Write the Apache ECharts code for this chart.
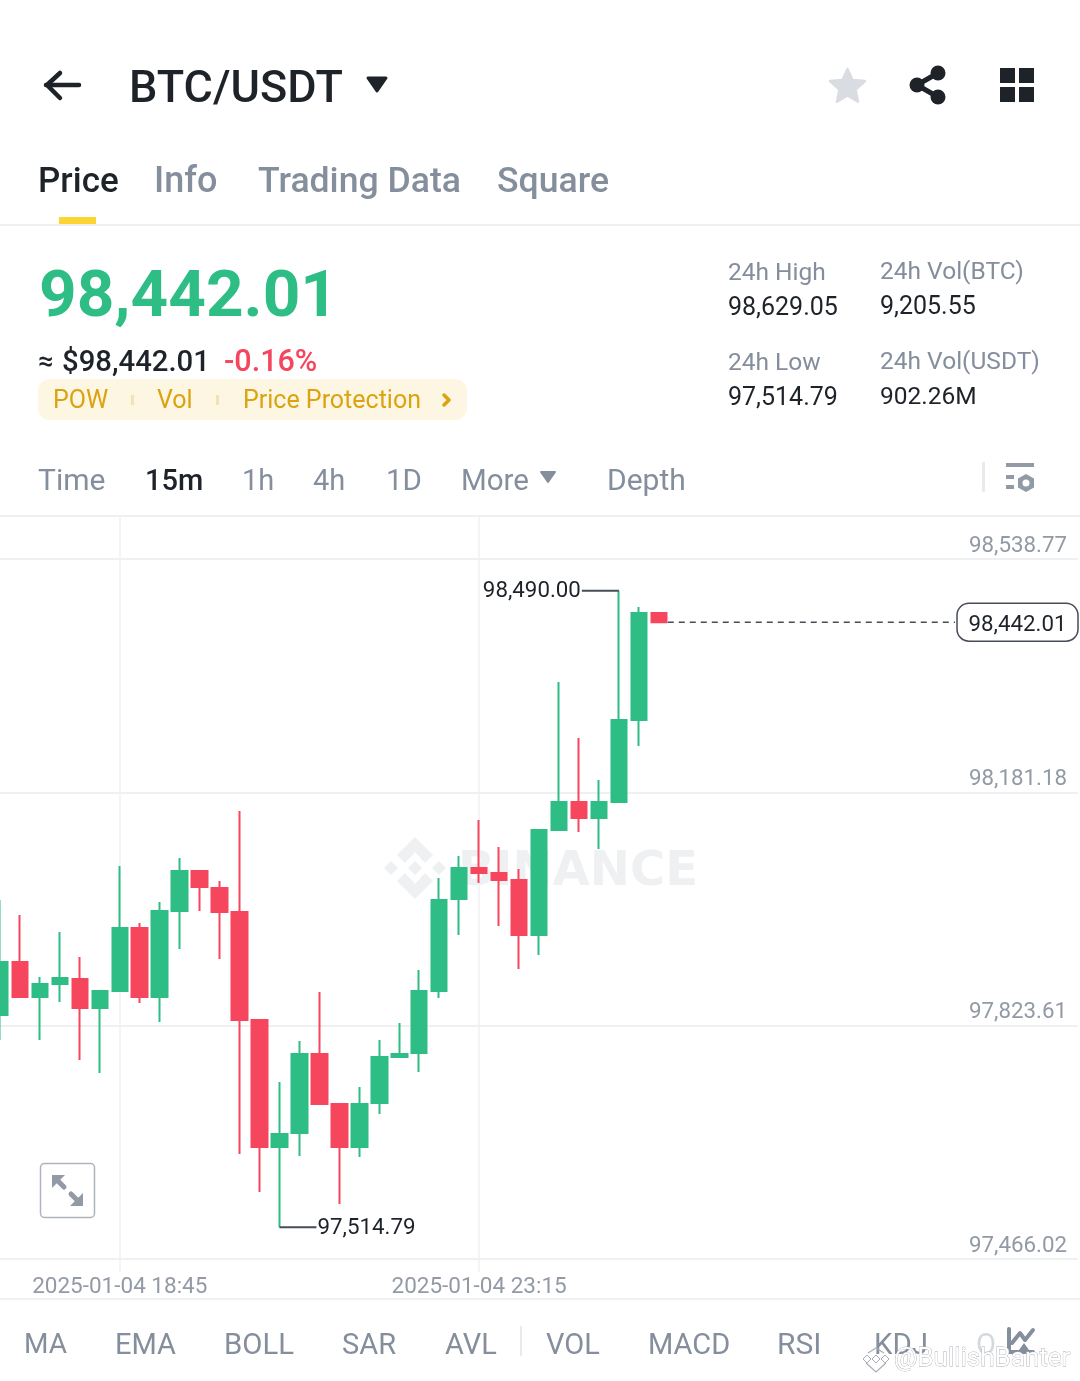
<!DOCTYPE html>
<html>
<head>
<meta charset="utf-8">
<title>BTC/USDT</title>
<style>
    html, body { margin: 0; padding: 0; background: #fff; }
    #main { width: 1080px; height: 1381px; }
</style>
<script src="https://cdn.jsdelivr.net/npm/echarts@6/dist/echarts.min.js"></script>
</head>
<body>
<div id="main"></div>
<script>
// 15m candles
var times = [
    '2025-01-04 17:15', '2025-01-04 17:30', '2025-01-04 17:45', '2025-01-04 18:00', '2025-01-04 18:15',
    '2025-01-04 18:30', '2025-01-04 18:45', '2025-01-04 19:00', '2025-01-04 19:15', '2025-01-04 19:30',
    '2025-01-04 19:45', '2025-01-04 20:00', '2025-01-04 20:15', '2025-01-04 20:30', '2025-01-04 20:45',
    '2025-01-04 21:00', '2025-01-04 21:15', '2025-01-04 21:30', '2025-01-04 21:45', '2025-01-04 22:00',
    '2025-01-04 22:15', '2025-01-04 22:30', '2025-01-04 22:45', '2025-01-04 23:00', '2025-01-04 23:15',
    '2025-01-04 23:30', '2025-01-04 23:45', '2025-01-05 00:00', '2025-01-05 00:15', '2025-01-05 00:30',
    '2025-01-05 00:45', '2025-01-05 01:00', '2025-01-05 01:15', '2025-01-05 01:30'
];
var opens = [
    97839.95, 97921.17, 97867.54, 97887.46, 97895.12, 97850.68, 97876.73, 97973.28, 97867.54, 97999.33,
    98060.63, 98034.58, 97997.80, 97832.29, 97637.66, 97659.12, 97780.18, 97703.56, 97637.66, 97705.09,
    97775.59, 97781.72, 97876.73, 98017.72, 98065.23, 98057.57, 98046.84, 97962.55, 98123.46, 98166.37,
    98141.85, 98166.37, 98292.04, 98456.02
];
var closes = [
    97921.17, 97867.54, 97887.46, 97896.65, 97850.68, 97876.73, 97973.28, 97867.54, 97999.33, 98060.63,
    98036.11, 97997.80, 97832.29, 97637.66, 97657.58, 97780.18, 97703.56, 97637.66, 97703.56, 97775.59,
    97780.18, 97876.73, 98016.19, 98065.23, 98057.57, 98046.84, 97962.55, 98123.46, 98166.37, 98141.85,
    98166.37, 98292.04, 98456.02, 98442.01
];
var lows = [
    97801.64, 97867.54, 97801.64, 97859.87, 97770.99, 97751.07, 97876.73, 97858.34, 97829.22, 97941.10,
    97999.33, 97925.77, 97626.93, 97568.70, 97514.79, 97623.87, 97703.56, 97550.31, 97622.34, 97688.24,
    97775.59, 97752.60, 97866.00, 97962.55, 98042.24, 97976.34, 97910.45, 97931.90, 98123.46, 98120.40,
    98094.35, 98166.37, 98252.19, 98442.01
];
var highs = [
    98016.19, 97993.20, 97898.19, 97967.15, 97928.84, 97876.73, 98068.29, 97980.94, 98013.12, 98080.55,
    98060.63, 98045.31, 98152.58, 97832.29, 97737.27, 97800.11, 97875.20, 97703.56, 97729.61, 97801.64,
    97827.69, 97908.91, 98049.90, 98083.62, 98138.79, 98097.41, 98063.70, 98123.46, 98350.27, 98264.45,
    98200.09, 98490.00, 98465.21, 98456.02
];
var priceTicks = [97466.02, 97823.61, 98181.18, 98538.77];
var timeLabels = ['2025-01-04 18:45', '2025-01-04 23:15'];
var highIndex = 31, highPrice = 98490.00;
var lowIndex = 14, lowPrice = 97514.79;
var lastIndex = 33, lastPrice = 98442.01;

var GREEN = '#2ebd85', RED = '#f6465d', DARK = '#1e2329', GREY = '#848e9c', LINE = '#eff0f2';
var FONT = 'Roboto';

// empty slots to the right of the last candle
var categories = times.slice();
while (categories.length < 55) {
    categories.push('');
}

var candles = times.map(function (t, i) {
    return [opens[i], closes[i], lows[i], highs[i]];
});

function fmt(v) {
    return v.toLocaleString('en-US', { minimumFractionDigits: 2, maximumFractionDigits: 2 });
}

// helpers for the app chrome around the chart
function txt(x, y, text, size, color, weight, align) {
    return {
        type: 'text',
        x: x, y: y + size * 0.085,   // roboto sits high with middle alignment
        style: {
            text: text, fill: color, align: align || 'left', verticalAlign: 'middle',
            font: (weight || 400) + ' ' + size + 'px ' + FONT
        }
    };
}
function rect(x, y, w, h, color, r) {
    return { type: 'rect', shape: { x: x, y: y, width: w, height: h, r: r || 0 }, style: { fill: color } };
}
function poly(points, color, round) {
    return {
        type: 'polygon', shape: { points: points },
        style: { fill: color, stroke: round ? color : null, lineWidth: round || 0, lineJoin: 'round' }
    };
}
function pline(points, color, width) {
    return {
        type: 'polyline', shape: { points: points },
        style: { stroke: color, lineWidth: width, fill: null, lineJoin: 'round', lineCap: 'round' }
    };
}
function dot(x, y, r, color) {
    return { type: 'circle', shape: { cx: x, cy: y, r: r }, style: { fill: color } };
}

var chrome = [
    // top bar
    pline([[46, 85], [79, 85]], DARK, 4.5),
    pline([[60, 73], [47, 85], [60, 98]], DARK, 4.5),
    txt(129, 87, 'BTC/USDT', 45, DARK, 500),
    poly([[368, 78], [386, 78], [377, 91]], DARK, 3),
    poly([[847.5, 69], [852.5, 80], [865, 81], [855.6, 89.6], [858, 101.8], [847.5, 95.5], [837, 101.8], [839.4, 89.6], [830, 81], [842.5, 80]], '#d9dce0', 2.5),
    pline([[938, 73], [917, 85], [938, 97]], DARK, 5),
    dot(938, 73, 7.5, DARK), dot(917, 85, 7.5, DARK), dot(938, 97, 7.5, DARK),
    rect(1000, 68, 15, 15, DARK), rect(1019, 68, 15, 15, DARK),
    rect(1000, 87, 15, 15, DARK), rect(1019, 87, 15, 15, DARK),

    // tabs
    txt(38, 180, 'Price', 35, DARK, 500),
    txt(154, 180, 'Info', 36, GREY, 500),
    txt(258, 180, 'Trading Data', 35.6, GREY, 500),
    txt(497, 180, 'Square', 35.6, GREY, 500),
    rect(59, 217, 37, 8, '#fcd535'),
    rect(0, 224, 1080, 2, LINE),

    // price block
    txt(39, 294, '98,442.01', 65.7, GREEN, 700),
    txt(38, 361, '≈', 27, DARK, 500),
    txt(62, 361, '$98,442.01', 29.3, DARK, 500),
    txt(224, 361, '-0.16%', 30.5, RED, 500),
    rect(38, 379, 429, 41, '#fdf6e3', 12),
    txt(53, 400, 'POW', 25, '#dca311'),
    rect(131, 395, 3, 10, '#f3e3b0'),
    txt(157, 400, 'Vol', 25, '#dca311'),
    rect(216, 395, 3, 10, '#f3e3b0'),
    txt(243, 400, 'Price Protection', 25, '#dca311'),
    pline([[444, 395], [449, 400], [444, 405]], '#dca311', 3.5),

    // 24h stats
    txt(728, 272, '24h High', 24.5, GREY),
    txt(728, 307, '98,629.05', 25, DARK),
    txt(880, 271, '24h Vol(BTC)', 24.5, GREY),
    txt(880, 306, '9,205.55', 25, DARK),
    txt(728, 362, '24h Low', 24.5, GREY),
    txt(728, 397, '97,514.79', 25, DARK),
    txt(880, 361, '24h Vol(USDT)', 24.5, GREY),
    txt(880, 396, '902.26M', 24.5, DARK),

    // interval row
    txt(38, 480, 'Time', 30, GREY),
    txt(145, 480, '15m', 29, DARK, 500),
    txt(242, 480, '1h', 29, GREY),
    txt(313, 480, '4h', 29, GREY),
    txt(386, 480, '1D', 29.5, GREY),
    txt(461, 480, 'More', 29.5, GREY),
    poly([[541, 472], [555, 472], [548, 482]], GREY, 2),
    txt(607, 480, 'Depth', 30, GREY),
    rect(982, 462, 3, 30, '#e8eaed'),
    rect(1006, 463, 28, 4, '#929aa5'),
    rect(1006, 475, 8, 4, '#929aa5'),
    rect(1006, 485, 8, 4, '#929aa5'),
    poly([[1026, 474], [1034, 478.5], [1034, 487.5], [1026, 492], [1018, 487.5], [1018, 478.5]], '#929aa5'),
    dot(1026, 483, 3.5, '#fff'),
    rect(0, 515, 1080, 2, LINE),

    // logo watermark behind the candles
    poly([[415, 837], [433, 855], [425, 863], [415, 852], [405, 863], [397, 855]], '#eef0f2'),
    poly([[415, 899], [433, 881], [425, 873], [415, 884], [405, 873], [397, 881]], '#eef0f2'),
    poly([[415, 861], [422, 868], [415, 875], [408, 868]], '#eef0f2'),
    poly([[391, 861], [398, 868], [391, 875], [384, 868]], '#eef0f2'),
    poly([[439, 861], [446, 868], [439, 875], [432, 868]], '#eef0f2'),
    {
        type: 'text', x: 458, y: 873,
        style: { text: 'BINANCE', fill: '#eef0f2', verticalAlign: 'middle', font: '700 48px "DejaVu Sans"' }
    },

    // bottom indicator row
    rect(0, 1298, 1080, 2, LINE),
    txt(24, 1344, 'MA', 28, GREY),
    txt(115, 1344, 'EMA', 29, GREY),
    txt(224, 1344, 'BOLL', 29.3, GREY),
    txt(342, 1344, 'SAR', 29, GREY),
    txt(445, 1344, 'AVL', 29, GREY),
    rect(520, 1326, 2, 30, '#e8eaed'),
    txt(546, 1344, 'VOL', 29, GREY),
    txt(648, 1344, 'MACD', 29, GREY),
    txt(777, 1344, 'RSI', 30, GREY),
    txt(874, 1344, 'KDJ', 29.5, GREY),
    txt(976, 1344, 'O', 29, '#d5d8dc'),
    pline([[1009, 1329], [1009, 1352], [1033, 1352]], '#848e9c', 4),
    pline([[1012, 1343], [1020, 1333], [1025, 1340], [1033, 1330]], '#848e9c', 4),
    poly([[1019, 1350], [1029, 1350], [1024, 1343]], '#848e9c')
];

// expand button
var expandBtn = [
    {
        type: 'rect', shape: { x: 40.5, y: 1163.5, width: 54, height: 54, r: 4 },
        style: { fill: '#fff', stroke: '#aeb4bc', lineWidth: 1.5 }
    },
    poly([[52, 1175], [65, 1175], [52, 1188]], '#929aa5'),
    pline([[58, 1181], [64, 1187]], '#929aa5', 5),
    poly([[83, 1206], [70, 1206], [83, 1193]], '#929aa5'),
    pline([[77, 1200], [71, 1194]], '#929aa5', 5)
];

// account stamp in the corner
var stampColor = '#a9adb3';
var stamp = [
    {
        type: 'text', x: 894, y: 1359,
        style: {
            text: '@BullishBanter', fill: '#fff', stroke: stampColor, lineWidth: 0.8,
            verticalAlign: 'middle', font: '400 26px ' + FONT
        }
    },
    { type: 'polyline', shape: { points: [[868, 1353], [876, 1348], [884, 1353]] }, style: { stroke: stampColor, lineWidth: 1.2, fill: null } },
    { type: 'polyline', shape: { points: [[866, 1363], [876, 1372], [886, 1363]] }, style: { stroke: stampColor, lineWidth: 1.2, fill: null } },
    { type: 'polygon', shape: { points: [[867, 1355], [871, 1359], [867, 1363], [863, 1359]] }, style: { stroke: stampColor, lineWidth: 1, fill: '#fff' } },
    { type: 'polygon', shape: { points: [[876, 1355], [880, 1359], [876, 1363], [872, 1359]] }, style: { stroke: stampColor, lineWidth: 1, fill: '#fff' } },
    { type: 'polygon', shape: { points: [[885, 1355], [889, 1359], [885, 1363], [881, 1359]] }, style: { stroke: stampColor, lineWidth: 1, fill: '#fff' } }
];

// high, low and last price callouts
function renderCallout(params, api) {
    var p = api.coord([api.value(0), api.value(1)]);
    var lineColor = '#474d57';
    if (params.dataIndex === 2) {
        return {
            type: 'group',
            children: [
                {
                    type: 'line', shape: { x1: p[0] + 9, y1: p[1], x2: 955, y2: p[1] },
                    style: { stroke: lineColor, lineWidth: 1.5, lineDash: [6, 5] }
                },
                {
                    type: 'rect', shape: { x: 957, y: p[1] - 19, width: 121, height: 38, r: 12 },
                    style: { fill: '#fff', stroke: lineColor, lineWidth: 1.5 }
                },
                {
                    type: 'text', x: 1017.5, y: p[1] + 3,
                    style: { text: fmt(api.value(1)), fill: DARK, align: 'center', verticalAlign: 'middle', font: '400 22.3px ' + FONT }
                }
            ]
        };
    }
    var dir = params.dataIndex === 0 ? -1 : 1;
    return {
        type: 'group',
        children: [
            {
                type: 'line', shape: { x1: p[0], y1: p[1], x2: p[0] + dir * 37, y2: p[1] },
                style: { stroke: lineColor, lineWidth: 2 }
            },
            {
                type: 'text', x: p[0] + dir * 38, y: p[1] + 1,
                style: { text: fmt(api.value(1)), fill: DARK, align: dir < 0 ? 'right' : 'left', verticalAlign: 'middle', font: '400 22.3px ' + FONT }
            }
        ]
    };
}

var chart = echarts.init(document.getElementById('main'));
chart.setOption({
    animation: false,
    backgroundColor: '#fff',
    graphic: { elements: chrome.concat(expandBtn, stamp) },
    grid: { left: -2, width: 1080, top: 517, height: 755, containLabel: false },
    xAxis: {
        type: 'category',
        data: categories,
        boundaryGap: false,
        axisLine: { show: false },
        axisTick: { show: false },
        axisLabel: {
            color: '#929aa5',
            fontFamily: FONT,
            fontSize: 22.5,
            margin: 4,
            hideOverlap: false,
            interval: function (i, v) { return timeLabels.indexOf(v) >= 0; }
        },
        splitLine: {
            show: true,
            lineStyle: { color: LINE, width: 1.5 },
            interval: function (i, v) { return timeLabels.indexOf(v) >= 0; }
        }
    },
    yAxis: {
        type: 'value',
        position: 'right',
        min: 97446.1,
        max: 98603.14,
        axisLine: { show: false },
        axisTick: { show: false, customValues: priceTicks },
        axisLabel: {
            inside: true,
            customValues: priceTicks,
            color: '#929aa5',
            fontFamily: FONT,
            fontSize: 22.3,
            margin: 11,
            align: 'right',
            verticalAlign: 'bottom',
            padding: [0, 0, 2, 0],
            formatter: fmt
        },
        splitLine: { show: true, lineStyle: { color: LINE, width: 2 } }
    },
    series: [
        {
            type: 'candlestick',
            data: candles,
            barWidth: 16,
            itemStyle: {
                color: GREEN, color0: RED,
                borderColor: GREEN, borderColor0: RED,
                borderWidth: 2
            }
        },
        {
            type: 'custom',
            renderItem: renderCallout,
            encode: { x: 0, y: 1 },
            silent: true,
            data: [[highIndex, highPrice], [lowIndex, lowPrice], [lastIndex, lastPrice]],
            z: 4
        }
    ]
});
</script>
</body>
</html>
